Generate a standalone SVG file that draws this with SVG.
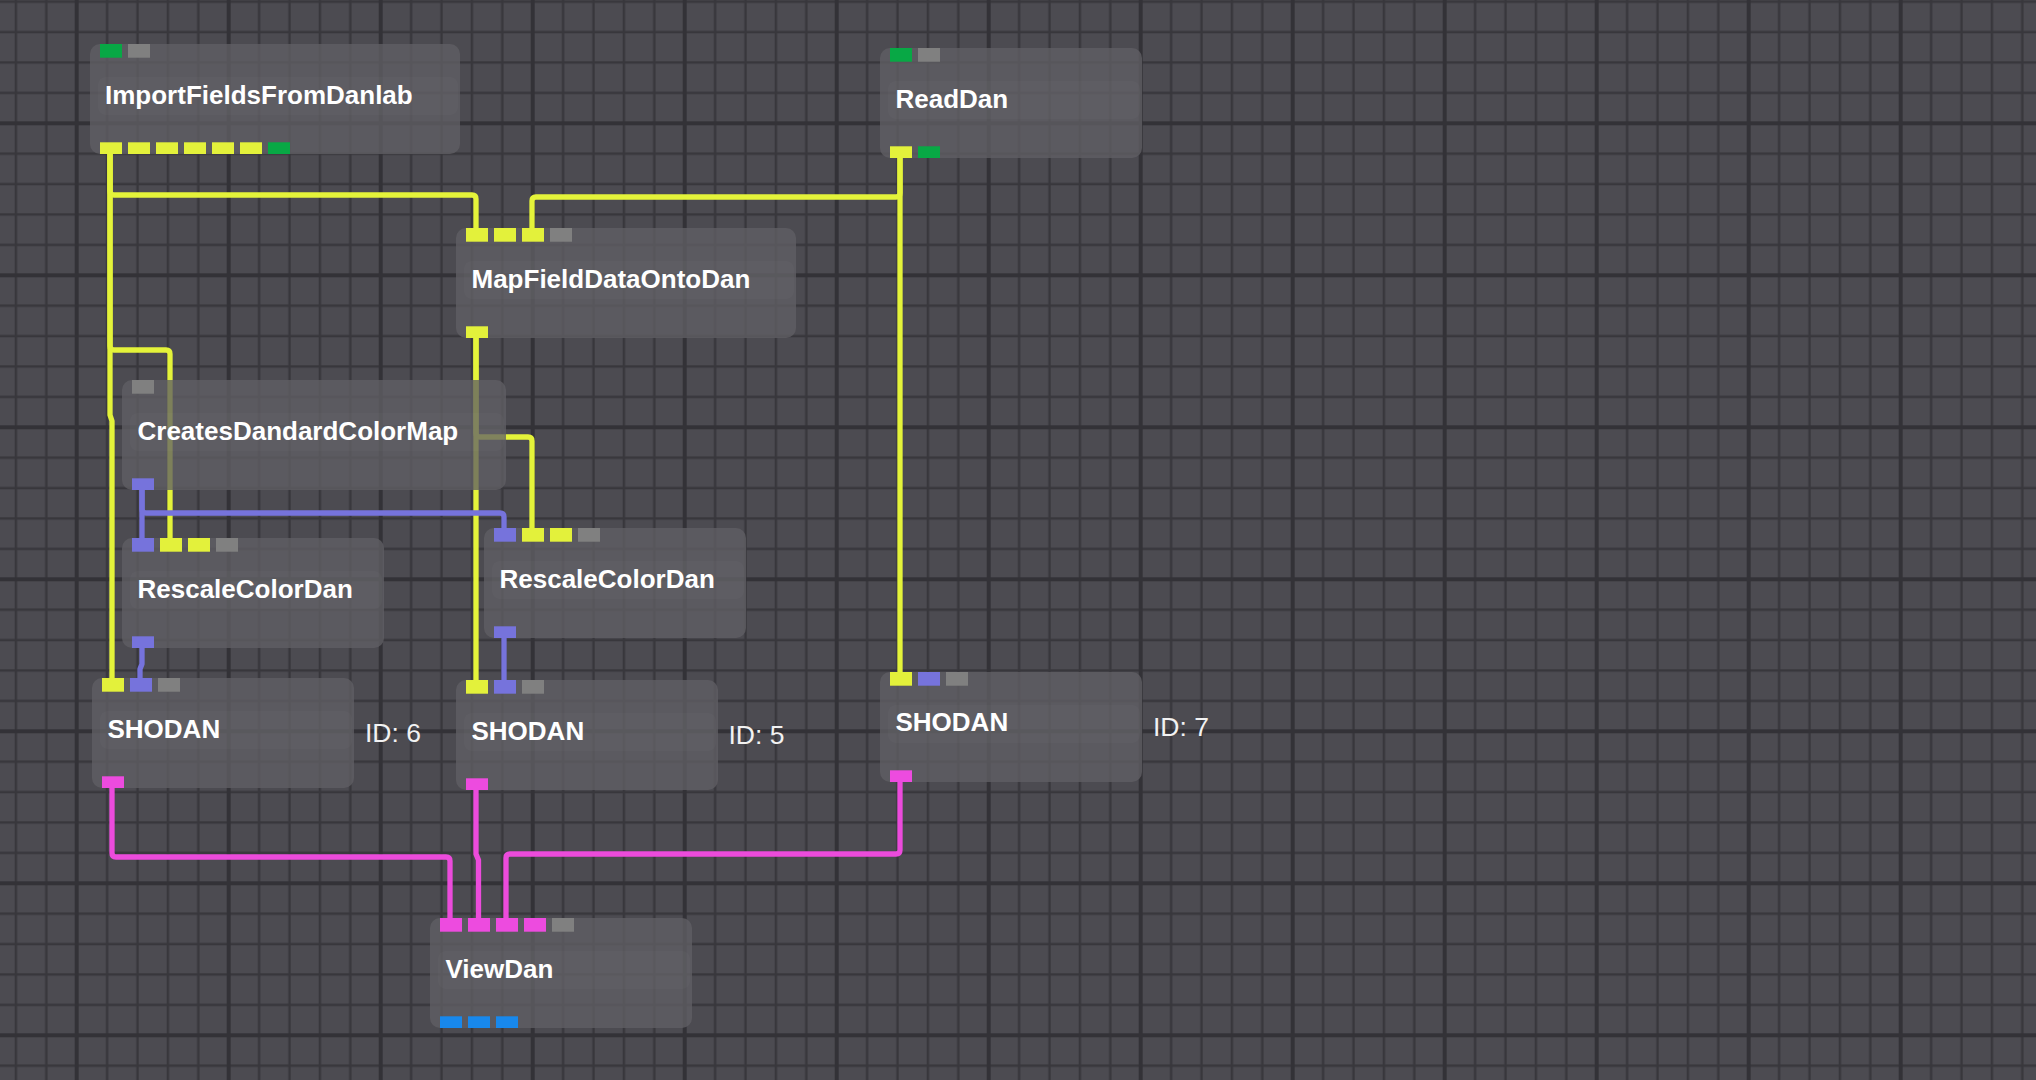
<svg xmlns="http://www.w3.org/2000/svg" width="2036" height="1080" viewBox="0 0 2036 1080">
<style>
.node{fill:#605f64;fill-opacity:0.78}
.band{fill:#ffffff;fill-opacity:0.025}
.title{font-family:"Liberation Sans",Arial,Helvetica,sans-serif;font-weight:bold;font-size:26px;fill:#ffffff}
.id{font-family:"Liberation Sans",Arial,Helvetica,sans-serif;font-size:26.5px;fill:#f2f2f2}
.pt{height:13.7px;width:22px}
.pb{height:11.7px;width:22px}
.y{fill:#e3f13b}
.g{fill:#08a845}
.k{fill:#808080}
.p{fill:#7673dc}
.m{fill:#ed4bdf}
.b{fill:#1888ec}
.c{fill:none;stroke-width:5.3;stroke-linejoin:round}
.cy{stroke:#e4f33a}
.cp{stroke:#7673dc}
.cm{stroke:#ec4bdc}
</style>
<defs>
<pattern id="grid" patternUnits="userSpaceOnUse" x="76.7" y="123.3" width="152" height="152">
<rect x="0" y="0" width="152" height="152" fill="#4c4b51"/>
<g fill="#38373c">
<rect x="29.2" y="0" width="2.4" height="152"/>
<rect x="59.6" y="0" width="2.4" height="152"/>
<rect x="90" y="0" width="2.4" height="152"/>
<rect x="120.4" y="0" width="2.4" height="152"/>
<rect x="0" y="29.2" width="152" height="2.4"/>
<rect x="0" y="59.6" width="152" height="2.4"/>
<rect x="0" y="90" width="152" height="2.4"/>
<rect x="0" y="120.4" width="152" height="2.4"/>
</g>
<g fill="#333237">
<rect x="0" y="0" width="2" height="152"/>
<rect x="150" y="0" width="2" height="152"/>
<rect x="0" y="0" width="152" height="2"/>
<rect x="0" y="150" width="152" height="2"/>
</g>
</pattern>
</defs>
<rect x="0" y="0" width="2036" height="1080" fill="url(#grid)"/>

<g id="connectors">
<path class="c cy" d="M110,154 V191 Q110,195 114,195 H472 Q476,195 476,199 V230"/>
<path class="c cy" d="M110,154 V346 Q110,350 114,350 H166 Q170,350 170,354 V540"/>
<path class="c cy" d="M110,154 V415 L112,421 V680"/>
<path class="c cy" d="M900,158 V193 Q900,197 896,197 H536 Q532,197 532,201 V230"/>
<path class="c cy" d="M900,158 V674"/>
<path class="c cy" d="M476,337 V682"/>
<path class="c cy" d="M476,337 V433 Q476,437 480,437 H528 Q532,437 532,441 V530"/>
<path class="c cp" d="M142,489 V540"/>
<path class="c cp" d="M142,489 V509 Q142,513 146,513 H500 Q504,513 504,517 V530"/>
<path class="c cp" d="M142,647 V664 L140,669 V680"/>
<path class="c cp" d="M504,637 V682"/>
<path class="c cm" d="M112,788 V853 Q112,857 116,857 H446 Q450,857 450,861 V920"/>
<path class="c cm" d="M476,790 V854 L478.5,860 V920"/>
<path class="c cm" d="M900,782 V850 Q900,854 896,854 H510 Q506,854 506,858 V920"/>
</g>

<g id="node-importfields">
<rect class="node" x="90" y="44" width="370" height="110" rx="10"/>
<rect class="band" x="98" y="77" width="360" height="38" rx="8"/>
<text class="title" x="105" y="103.5">ImportFieldsFromDanlab</text>
<rect class="pt g" x="100" y="44"/><rect class="pt k" x="128" y="44"/>
<rect class="pb y" x="100" y="142.3"/><rect class="pb y" x="128" y="142.3"/><rect class="pb y" x="156" y="142.3"/><rect class="pb y" x="184" y="142.3"/><rect class="pb y" x="212" y="142.3"/><rect class="pb y" x="240" y="142.3"/><rect class="pb g" x="268" y="142.3"/>
</g>

<g id="node-readdan">
<rect class="node" x="880" y="48" width="262" height="110" rx="10"/>
<rect class="band" x="888" y="81" width="252" height="38" rx="8"/>
<text class="title" x="895.5" y="108">ReadDan</text>
<rect class="pt g" x="890" y="48"/><rect class="pt k" x="918" y="48"/>
<rect class="pb y" x="890" y="146.3"/><rect class="pb g" x="918" y="146.3"/>
</g>

<g id="node-mapfield">
<rect class="node" x="456" y="228" width="340" height="110" rx="10"/>
<rect class="band" x="464" y="261" width="330" height="38" rx="8"/>
<text class="title" x="471.5" y="287.5">MapFieldDataOntoDan</text>
<rect class="pt y" x="466" y="228"/><rect class="pt y" x="494" y="228"/><rect class="pt y" x="522" y="228"/><rect class="pt k" x="550" y="228"/>
<rect class="pb y" x="466" y="326.3"/>
</g>

<g id="node-createscolormap">
<rect class="node" x="122" y="380" width="384" height="110" rx="10"/>
<rect class="band" x="130" y="413" width="374" height="38" rx="8"/>
<text class="title" x="137.5" y="439.5">CreatesDandardColorMap</text>
<rect class="pt k" x="132" y="380"/>
<rect class="pb p" x="132" y="478.3"/>
</g>

<g id="node-rescale-left">
<rect class="node" x="122" y="538" width="262" height="110" rx="10"/>
<rect class="band" x="130" y="571" width="252" height="38" rx="8"/>
<text class="title" x="137.5" y="597.5">RescaleColorDan</text>
<rect class="pt p" x="132" y="538"/><rect class="pt y" x="160" y="538"/><rect class="pt y" x="188" y="538"/><rect class="pt k" x="216" y="538"/>
<rect class="pb p" x="132" y="636.3"/>
</g>

<g id="node-rescale-right">
<rect class="node" x="484" y="528" width="262" height="110" rx="10"/>
<rect class="band" x="492" y="561" width="252" height="38" rx="8"/>
<text class="title" x="499.5" y="587.5">RescaleColorDan</text>
<rect class="pt p" x="494" y="528"/><rect class="pt y" x="522" y="528"/><rect class="pt y" x="550" y="528"/><rect class="pt k" x="578" y="528"/>
<rect class="pb p" x="494" y="626.3"/>
</g>

<g id="node-shodan6">
<rect class="node" x="92" y="678" width="262" height="110" rx="10"/>
<rect class="band" x="100" y="711" width="252" height="38" rx="8"/>
<text class="title" x="107.5" y="737.5">SHODAN</text>
<text class="id" x="365" y="741.7">ID: 6</text>
<rect class="pt y" x="102" y="678"/><rect class="pt p" x="130" y="678"/><rect class="pt k" x="158" y="678"/>
<rect class="pb m" x="102" y="776.3"/>
</g>

<g id="node-shodan5">
<rect class="node" x="456" y="680" width="262" height="110" rx="10"/>
<rect class="band" x="464" y="713" width="252" height="38" rx="8"/>
<text class="title" x="471.5" y="739.5">SHODAN</text>
<text class="id" x="728.5" y="744">ID: 5</text>
<rect class="pt y" x="466" y="680"/><rect class="pt p" x="494" y="680"/><rect class="pt k" x="522" y="680"/>
<rect class="pb m" x="466" y="778.3"/>
</g>

<g id="node-shodan7">
<rect class="node" x="880" y="672" width="262" height="110" rx="10"/>
<rect class="band" x="888" y="705" width="252" height="38" rx="8"/>
<text class="title" x="895.5" y="731">SHODAN</text>
<text class="id" x="1153" y="736">ID: 7</text>
<rect class="pt y" x="890" y="672"/><rect class="pt p" x="918" y="672"/><rect class="pt k" x="946" y="672"/>
<rect class="pb m" x="890" y="770.3"/>
</g>

<g id="node-viewdan">
<rect class="node" x="430" y="918" width="262" height="110" rx="10"/>
<rect class="band" x="438" y="951" width="252" height="38" rx="8"/>
<text class="title" x="445.5" y="977.5">ViewDan</text>
<rect class="pt m" x="440" y="918"/><rect class="pt m" x="468" y="918"/><rect class="pt m" x="496" y="918"/><rect class="pt m" x="524" y="918"/><rect class="pt k" x="552" y="918"/>
<rect class="pb b" x="440" y="1016.3"/><rect class="pb b" x="468" y="1016.3"/><rect class="pb b" x="496" y="1016.3"/>
</g>
</svg>
